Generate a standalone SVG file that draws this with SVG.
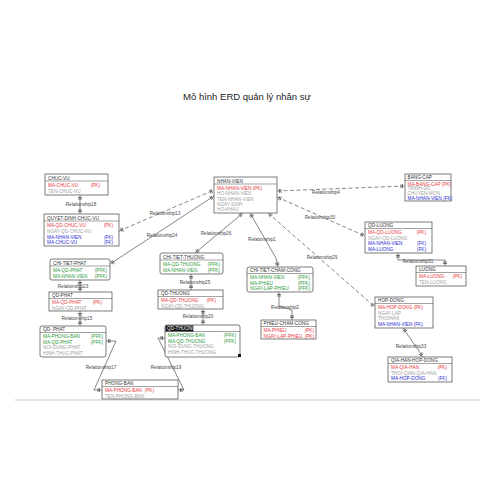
<svg xmlns="http://www.w3.org/2000/svg" width="495" height="495" viewBox="0 0 495 495">
<style>
text{font-family:"Liberation Sans",Arial,sans-serif;font-size:4.7px}
.title{font-size:9.5px;fill:#222}
.box{fill:#fff;stroke:#444;stroke-width:0.7}
.sep{stroke:#444;stroke-width:0.5}
.h{fill:#333}
.pk{fill:#e8383d}
.fk{fill:#2a2ad0}
.pf{fill:#2e9a3a}
.at{fill:#a0a0a0}
.r{fill:#444;font-size:4.6px}
.c{fill:none;stroke:#333;stroke-width:0.6;marker-start:url(#t);marker-end:url(#t)}
.d{stroke-dasharray:4 2.5}
.e{text-anchor:end}
</style>
<defs>
<marker id="t" viewBox="-6 -3 7 6" refX="0" refY="0" markerWidth="7" markerHeight="6" orient="auto-start-reverse" markerUnits="userSpaceOnUse">
<path d="M-2.5,-2V2M-4,-2V2" stroke="#222" stroke-width="0.6" fill="none"/>
</marker>
</defs>
<rect width="495" height="495" fill="#fff"/>
<text class="title" x="247" y="100" text-anchor="middle">Mô hình ERD quản lý nhân sự</text>
<rect x="15" y="399" width="465" height="2" fill="#e2e2e2"/>

<g id="connectors">
<path class="c" d="M80,195V214"/>
<path class="c d" d="M119,231L214,190"/>
<path class="c" d="M110,264L214,196"/>
<path class="c d" d="M277,191L405,186"/>
<path class="c d" d="M277,197L365,236"/>
<path class="c" d="M250,213L276,258L278,267"/>
<path class="c" d="M243,213L195,253"/>
<path class="c d" d="M268,213L375,307"/>
<path class="c" d="M80,280V292"/>
<path class="c" d="M80,311V326"/>
<path class="c" d="M191,274V290"/>
<path class="c" d="M203,309V325"/>
<path class="c" d="M279,292V306L292,310V320"/>
<path class="c" d="M398,253V260H445V266"/>
<path class="c" d="M403,328L423,357"/>
<path class="c" d="M106,341H116L94,390H102"/>
<path class="c" d="M165,338H158L184,390H178"/>
<text class="r" x="81" y="206" text-anchor="middle">Relationship18</text>
<text class="r" x="165" y="215" text-anchor="middle">Relationship13</text>
<text class="r" x="162" y="237" text-anchor="middle">Relationship24</text>
<text class="r" x="326" y="194" text-anchor="middle">Relationship4</text>
<text class="r" x="320" y="219" text-anchor="middle">Relationship30</text>
<text class="r" x="262" y="241" text-anchor="middle">Relationship1</text>
<text class="r" x="216" y="235" text-anchor="middle">Relationship26</text>
<text class="r" x="322" y="259" text-anchor="middle">Relationship29</text>
<text class="r" x="73" y="288" text-anchor="middle">Relationship23</text>
<text class="r" x="77" y="320" text-anchor="middle">Relationship15</text>
<text class="r" x="195" y="284" text-anchor="middle">Relationship25</text>
<text class="r" x="198" y="318" text-anchor="middle">Relationship20</text>
<text class="r" x="285" y="309" text-anchor="middle">Relationship2</text>
<text class="r" x="418" y="263" text-anchor="middle">Relationship31</text>
<text class="r" x="411" y="348" text-anchor="middle">Relationship33</text>
<text class="r" x="101" y="369" text-anchor="middle">Relationship17</text>
<text class="r" x="166" y="369" text-anchor="middle">Relationship19</text>
</g>

<g id="chuc-vu">
<rect class="box" x="45" y="174" width="63" height="21"/>
<line class="sep" x1="45" y1="181" x2="108" y2="181"/>
<text class="h" x="48" y="179.5">CHUC-VU</text>
<text class="pk" x="48" y="187">MA-CHUC-VU</text><text class="pk e" x="100" y="187">(PK)</text>
<text class="at" x="48" y="193">TEN-CHUC-VU</text>
</g>

<g id="quyet-dinh-chuc-vu">
<rect class="box" x="44" y="214" width="75" height="32"/>
<line class="sep" x1="44" y1="221" x2="119" y2="221"/>
<text class="h" x="47" y="219.5">QUYET-DINH-CHUC-VU</text>
<text class="pk" x="47" y="227">MA-QD-CHUC-VU</text><text class="pk e" x="113" y="227">(PK)</text>
<text class="at" x="47" y="232.8">NGAY-QD-CHUC-VU</text>
<text class="fk" x="47" y="238.6">MA-NHAN-VIEN</text><text class="fk e" x="113" y="238.6">(FK)</text>
<text class="fk" x="47" y="244.4">MA-CHUC-VU</text><text class="fk e" x="113" y="244.4">(FK)</text>
</g>

<g id="nhan-vien">
<rect class="box" x="214" y="177" width="63" height="36"/>
<line class="sep" x1="214" y1="184" x2="277" y2="184"/>
<text class="h" x="217" y="182.5">NHAN-VIEN</text>
<text class="pk" x="217" y="189.5">MA-NHAN-VIEN  (PK)</text>
<text class="at" x="217" y="195">HO-NHAN-VIEN</text>
<text class="at" x="217" y="200.5">TEN-NHAN-VIEN</text>
<text class="at" x="217" y="206">NGAY-SINH</text>
<text class="at" x="217" y="211.3">HO-KHAU</text>
</g>

<g id="bang-cap">
<rect class="box" x="405" y="174" width="46" height="27"/>
<line class="sep" x1="405" y1="180.5" x2="451" y2="180.5"/>
<text class="h" x="407.5" y="179">BANG-CAP</text>
<text class="pk" x="407.5" y="185.5">MA-BANG-CAP (PK)</text>
<text class="at" x="407.5" y="190.2">TRINH-DO</text>
<text class="at" x="407.5" y="194.9">CHUYEN-MON</text>
<text class="fk" x="407.5" y="199.6">MA-NHAN-VIEN (FK)</text>
</g>

<g id="chi-tiet-phat">
<rect class="box" x="50" y="259" width="60" height="21" rx="2"/>
<line class="sep" x1="50" y1="266" x2="110" y2="266"/>
<text class="h" x="53" y="264.5">CHI-TIET-PHAT</text>
<text class="pf" x="53" y="271.5">MA-QD-PHAT</text><text class="pf e" x="107" y="271.5">(PFK)</text>
<text class="pf" x="53" y="277.5">MA-NHAN-VIEN</text><text class="pf e" x="107" y="277.5">(PFK)</text>
</g>

<g id="qd-phat">
<rect class="box" x="49" y="292" width="63" height="19"/>
<line class="sep" x1="49" y1="298.5" x2="112" y2="298.5"/>
<text class="h" x="52" y="297">QD-PHAT</text>
<text class="pk" x="52" y="304">MA-QD-PHAT</text><text class="pk e" x="102" y="304">(PK)</text>
<text class="at" x="52" y="309.5">NGAY-QD-PHAT</text>
</g>

<g id="qd-phat-2">
<rect class="box" x="40" y="326" width="66" height="31" rx="2"/>
<line class="sep" x1="40" y1="332.5" x2="106" y2="332.5"/>
<text class="h" x="43" y="331">QD- PHAT</text>
<text class="pf" x="43" y="338">MA-PHONG-BAN</text><text class="pf e" x="103" y="338">(PFK)</text>
<text class="pf" x="43" y="343.5">MA-QD-PHAT</text><text class="pf e" x="103" y="343.5">(PFK)</text>
<text class="at" x="43" y="349">NOI-DUNG-PHAT</text>
<text class="at" x="43" y="354.5">HINH-THUC-PHAT</text>
</g>

<g id="chi-tiet-thuong">
<rect class="box" x="160" y="253" width="63" height="21" rx="2"/>
<line class="sep" x1="160" y1="260" x2="223" y2="260"/>
<text class="h" x="163" y="258.5">CHI-TIET-THUONG</text>
<text class="pf" x="163" y="265.5">MA-QD-THUONG</text><text class="pf e" x="220" y="265.5">(PFK)</text>
<text class="pf" x="163" y="271.5">MA-NHAN-VIEN</text><text class="pf e" x="220" y="271.5">(PFK)</text>
</g>

<g id="qd-thuong">
<rect class="box" x="158" y="290" width="65" height="19"/>
<line class="sep" x1="158" y1="296.5" x2="223" y2="296.5"/>
<text class="h" x="161" y="295">QD-THUONG</text>
<text class="pk" x="161" y="302">MA-QD-THUONG</text><text class="pk e" x="216" y="302">(PK)</text>
<text class="at" x="161" y="307.5">NGAY-QD-THUONG</text>
</g>

<g id="qd-thuong-2">
<rect class="box" x="165" y="325" width="75" height="32" rx="2"/>
<rect x="165.5" y="325.5" width="28" height="6" fill="#111"/>
<line class="sep" x1="165" y1="331.5" x2="240" y2="331.5"/>
<rect x="238" y="354" width="3" height="3" fill="#111"/>
<text x="167" y="330.2" fill="#fff">QD-THUONG</text>
<text class="pf" x="168" y="337">MA-PHONG-BAN</text><text class="pf e" x="236" y="337">(PFK)</text>
<text class="pf" x="168" y="342.5">MA-QD-THUONG</text><text class="pf e" x="236" y="342.5">(PFK)</text>
<text class="at" x="168" y="348">NOI-DUNG-THUONG</text>
<text class="at" x="168" y="353.5">HINH-THUC-THUONG</text>
</g>

<g id="chi-tiet-cham-cong">
<rect class="box" x="247" y="267" width="66" height="25" rx="2"/>
<line class="sep" x1="247" y1="273.5" x2="313" y2="273.5"/>
<text class="h" x="250" y="272">CHI-TIET-CHAM-CONG</text>
<text class="pf" x="250" y="279">MA-NHAN-VIEN</text><text class="pf e" x="310" y="279">(PFK)</text>
<text class="pf" x="250" y="284.5">MA-PHIEU</text><text class="pf e" x="310" y="284.5">(PFK)</text>
<text class="pf" x="250" y="290">NGAY-LAP-PHIEU</text><text class="pf e" x="310" y="290">(PFK)</text>
</g>

<g id="phieu-cham-cong">
<rect class="box" x="261" y="320" width="55" height="19"/>
<line class="sep" x1="261" y1="326.5" x2="316" y2="326.5"/>
<text class="h" x="263.5" y="325">PHIEU-CHAM-CONG</text>
<text class="pk" x="263.5" y="332">MA-PHIEU</text><text class="pk e" x="314" y="332">(PK)</text>
<text class="pk" x="263.5" y="337.5">NGAY-LAP-PHIEU</text><text class="pk e" x="314" y="337.5">(PK)</text>
</g>

<g id="qd-luong">
<rect class="box" x="365" y="222" width="67" height="31"/>
<line class="sep" x1="365" y1="228.5" x2="432" y2="228.5"/>
<text class="h" x="368" y="227">QD-LUONG</text>
<text class="pk" x="368" y="234">MA-QD-LUONG</text><text class="pk e" x="426" y="234">(PK)</text>
<text class="at" x="368" y="239.5">NGAY-QD-LUONG</text>
<text class="fk" x="368" y="245">MA-NHAN-VIEN</text><text class="fk e" x="426" y="245">(FK)</text>
<text class="fk" x="368" y="250.5">MA-LUONG</text><text class="fk e" x="426" y="250.5">(FK)</text>
</g>

<g id="luong">
<rect class="box" x="416" y="266" width="50" height="20"/>
<line class="sep" x1="416" y1="272.5" x2="466" y2="272.5"/>
<text class="h" x="419" y="271">LUONG</text>
<text class="pk" x="419" y="278">MA-LUONG</text><text class="pk e" x="462" y="278">(PK)</text>
<text class="at" x="419" y="283.5">TEN-LUONG</text>
</g>

<g id="hop-dong">
<rect class="box" x="375" y="297" width="58" height="31"/>
<line class="sep" x1="375" y1="303.5" x2="433" y2="303.5"/>
<text class="h" x="378" y="302">HOP-DONG</text>
<text class="pk" x="378" y="309">MA-HOP-DONG (PK)</text>
<text class="at" x="378" y="314.5">NGAY-LAP</text>
<text class="at" x="378" y="320">THOIHAN</text>
<text class="fk" x="378" y="325.5">MA-NHAN-VIEN (FK)</text>
</g>

<g id="qia-han-hop-dong">
<rect class="box" x="388" y="357" width="64" height="25"/>
<line class="sep" x1="388" y1="363.5" x2="452" y2="363.5"/>
<text class="h" x="391" y="362">QIA-HAN-HOP-DONG</text>
<text class="pk" x="391" y="369">MA-QIA-HAN</text><text class="pk e" x="447" y="369">(PK)</text>
<text class="at" x="391" y="374.5">THOI-QIAN-QIA-HAN</text>
<text class="fk" x="391" y="380">MA-HOP-DONG</text><text class="fk e" x="447" y="380">(FK)</text>
</g>

<g id="phong-ban">
<rect class="box" x="102" y="380" width="76" height="19"/>
<line class="sep" x1="102" y1="386.5" x2="178" y2="386.5"/>
<text class="h" x="105" y="385">PHONG-BAN</text>
<text class="pk" x="105" y="392">MA-PHONG-BAN</text><text class="pk e" x="154" y="392">(PK)</text>
<text class="at" x="105" y="397.5">TEN-PHONG-BAN</text>
</g>
</svg>
